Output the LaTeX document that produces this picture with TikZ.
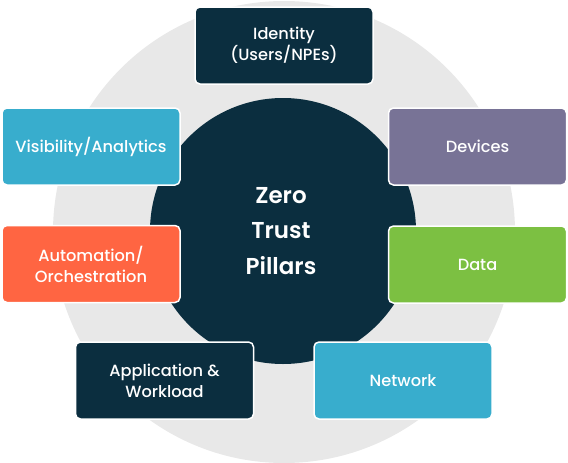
\documentclass[tikz,border=0pt]{standalone}
\usepackage{fontspec}
\setmainfont{Poppins}[UprightFont=* Medium,BoldFont=* SemiBold]
\definecolor{navy}{HTML}{0B2E3F}
\definecolor{teal}{HTML}{38ADCD}
\definecolor{purp}{HTML}{787396}
\definecolor{orng}{HTML}{FF6542}
\definecolor{grn}{HTML}{7CC042}
\definecolor{ring}{HTML}{E8E8E8}
\begin{document}
\begin{tikzpicture}[x=1pt,y=-1pt,
  pillar/.style={draw=white,line width=1.5pt,rounded corners=5pt,text=white,
    font=\fontsize{16.2}{21}\selectfont,align=center,inner sep=0pt,
    minimum width=178pt,minimum height=77pt},
  core/.style={circle,fill=navy,minimum size=266pt,text=white,
    font=\fontsize{23}{35.5}\selectfont\bfseries,align=center}]
\useasboundingbox (0,0) rectangle (568,463);
\fill[ring] (284,232) circle (231);
\node[core] (c) at (283,231) {};
\node[text=white,font=\fontsize{23}{35.5}\selectfont\bfseries,align=center] (ct) at (281,231) {Zero\\Trust\\Pillars};
\node[pillar,fill=navy] (id) at (284,45.5) {Identity\\(Users/NPEs)};
\node[pillar,fill=teal] (vis) at (91,146.5) {Visibility/Analytics};
\node[pillar,fill=orng] (aut) at (91,264) {Automation/\\Orchestration};
\node[pillar,fill=purp] (dev) at (477.5,146.5) {Devices};
\node[pillar,fill=grn] (dat) at (477.5,264.5) {Data};
\node[pillar,fill=navy] (app) at (164.5,380.5) {Application \&\\Workload};
\node[pillar,fill=teal] (net) at (403,380.5) {Network};
\end{tikzpicture}
\end{document}
